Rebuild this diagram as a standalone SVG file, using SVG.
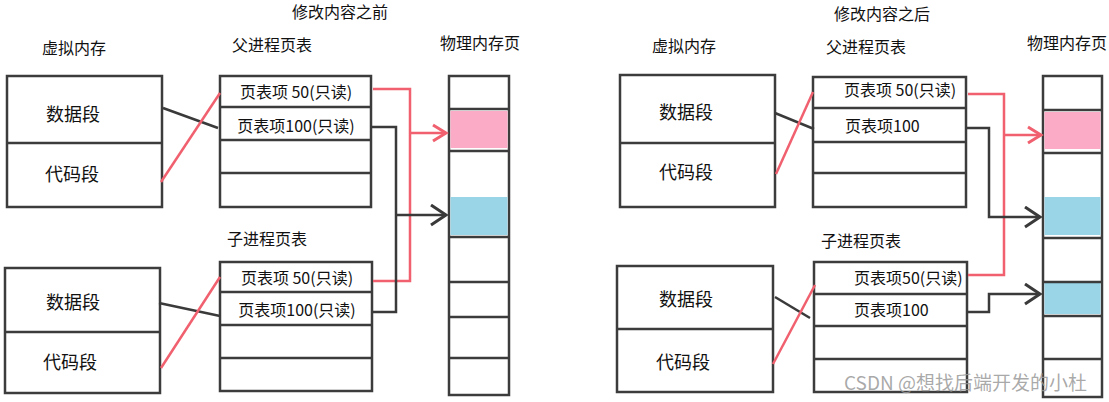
<svg xmlns="http://www.w3.org/2000/svg" width="1109" height="402" viewBox="0 0 1109 402">
<defs>
<style>
.bg{fill:#ffffff}
.box{fill:#ffffff;stroke:#3c3c3c;stroke-width:2.5}
.ln{stroke:#3c3c3c;stroke-width:2.5;fill:none}
.t{font-family:"Noto Sans CJK SC","Liberation Sans",sans-serif;fill:#111;font-size:16px}
.big{font-size:18px}
.m{text-anchor:middle}
.blk{stroke:#3a3a3a;stroke-width:2.5;fill:none;stroke-linejoin:miter}
.red{stroke:#f0606e;stroke-width:2.5;fill:none}
.pink{fill:#fbabc5}
.blue{fill:#99d5e7}
.wm{font-family:"Noto Sans CJK SC","Liberation Sans",sans-serif;font-size:19px;fill:#9a9a9a;fill-opacity:0.85}
</style>
<marker id="ab" markerUnits="userSpaceOnUse" markerWidth="20" markerHeight="24" refX="16" refY="11" orient="auto">
<path d="M1,1 L16,11 L1,21" fill="none" stroke="#3a3a3a" stroke-width="3"/>
</marker>
<marker id="ar" markerUnits="userSpaceOnUse" markerWidth="20" markerHeight="24" refX="16" refY="11" orient="auto">
<path d="M3,3 L16,11 L3,19" fill="none" stroke="#f0606e" stroke-width="3"/>
</marker>
</defs>
<rect class="bg" x="0" y="0" width="1109" height="402"/>

<g id="labels">
<text class="t m" x="340" y="18">修改内容之前</text>
<text class="t m" x="74" y="54">虚拟内存</text>
<text class="t m" x="272" y="51">父进程页表</text>
<text class="t m" x="480" y="49">物理内存页</text>
<text class="t m" x="267" y="245">子进程页表</text>
<text class="t m" x="882" y="20">修改内容之后</text>
<text class="t m" x="684" y="52">虚拟内存</text>
<text class="t m" x="866" y="53">父进程页表</text>
<text class="t" x="1027" y="49">物理内存页</text>
<text class="t m" x="861" y="247">子进程页表</text>
</g>

<g id="vm-left-parent">
<rect class="box" x="7" y="76" width="155" height="131"/>
<line class="ln" x1="7" y1="143" x2="162" y2="143"/>
<text class="t big m" x="73" y="121">数据段</text>
<text class="t big m" x="72" y="181">代码段</text>
</g>

<g id="pt-left-parent">
<rect class="box" x="220" y="76" width="151" height="131"/>
<line class="ln" x1="220" y1="107" x2="371" y2="107"/>
<line class="ln" x1="220" y1="140" x2="371" y2="140"/>
<line class="ln" x1="220" y1="173" x2="371" y2="173"/>
<text class="t m" x="296" y="98">页表项 50(只读)</text>
<text class="t m" x="296" y="132">页表项100(只读)</text>
</g>

<g id="phys-left">
<rect class="box" x="449" y="76" width="60" height="319"/>
<rect class="pink" x="450.5" y="111" width="57" height="37"/>
<rect class="blue" x="450.5" y="197" width="57" height="38"/>
<line class="ln" x1="449" y1="109" x2="509" y2="109"/>
<line class="ln" x1="449" y1="151" x2="509" y2="151"/>
<line class="ln" x1="449" y1="237" x2="509" y2="237"/>
<line class="ln" x1="449" y1="282" x2="509" y2="282"/>
<line class="ln" x1="449" y1="317" x2="509" y2="317"/>
<line class="ln" x1="449" y1="358" x2="509" y2="358"/>
</g>

<g id="pt-left-child">
<rect class="box" x="220" y="262" width="152" height="129"/>
<line class="ln" x1="220" y1="292" x2="372" y2="292"/>
<line class="ln" x1="220" y1="325" x2="372" y2="325"/>
<line class="ln" x1="220" y1="358" x2="372" y2="358"/>
<text class="t m" x="297" y="284">页表项 50(只读)</text>
<text class="t m" x="297" y="316">页表项100(只读)</text>
</g>

<g id="vm-left-child">
<rect class="box" x="5" y="268" width="155" height="125"/>
<line class="ln" x1="5" y1="332" x2="160" y2="332"/>
<text class="t big m" x="73" y="309">数据段</text>
<text class="t big m" x="70" y="369">代码段</text>
</g>

<g id="vm-right-parent">
<rect class="box" x="620" y="75" width="155" height="132"/>
<line class="ln" x1="620" y1="143" x2="775" y2="143"/>
<text class="t big m" x="686" y="119">数据段</text>
<text class="t big m" x="686" y="179">代码段</text>
</g>

<g id="pt-right-parent">
<rect class="box" x="813" y="77" width="153" height="130"/>
<line class="ln" x1="813" y1="108" x2="966" y2="108"/>
<line class="ln" x1="813" y1="142" x2="966" y2="142"/>
<line class="ln" x1="813" y1="173" x2="966" y2="173"/>
<text class="t" x="844" y="96">页表项 50(只读)</text>
<text class="t" x="845" y="132">页表项100</text>
</g>

<g id="phys-right">
<rect class="box" x="1043" y="76" width="59" height="321"/>
<rect class="pink" x="1044.5" y="112" width="56" height="37"/>
<rect class="blue" x="1044.5" y="197" width="56" height="38"/>
<rect class="blue" x="1044.5" y="283" width="56" height="31"/>
<line class="ln" x1="1043" y1="110" x2="1102" y2="110"/>
<line class="ln" x1="1043" y1="153" x2="1102" y2="153"/>
<line class="ln" x1="1043" y1="238" x2="1102" y2="238"/>
<line class="ln" x1="1043" y1="282" x2="1102" y2="282"/>
<line class="ln" x1="1043" y1="316" x2="1102" y2="316"/>
<line class="ln" x1="1043" y1="359" x2="1102" y2="359"/>
</g>

<g id="pt-right-child">
<rect class="box" x="814" y="262" width="153" height="130"/>
<line class="ln" x1="814" y1="294" x2="967" y2="294"/>
<line class="ln" x1="814" y1="326" x2="967" y2="326"/>
<line class="ln" x1="814" y1="359" x2="967" y2="359"/>
<text class="t" x="854" y="284">页表项50(只读)</text>
<text class="t" x="854" y="316">页表项100</text>
</g>

<g id="vm-right-child">
<rect class="box" x="617" y="266" width="156" height="126"/>
<line class="ln" x1="617" y1="329" x2="773" y2="329"/>
<text class="t big m" x="686" y="306">数据段</text>
<text class="t big m" x="683" y="369">代码段</text>
</g>

<g id="connectors">
<line class="blk" x1="163" y1="108" x2="218" y2="128"/>
<line class="red" x1="161" y1="182" x2="220" y2="93"/>
<line class="blk" x1="159" y1="303" x2="220" y2="316"/>
<line class="red" x1="161" y1="368" x2="220" y2="277"/>
<path class="red" d="M373,89 H410 V281 H373"/>
<path class="red" d="M410,133 H446" marker-end="url(#ar)"/>
<path class="blk" d="M370,127 H396 V312 H373"/>
<path class="blk" d="M396,215 H446" marker-end="url(#ab)"/>

<line class="blk" x1="775" y1="113" x2="814" y2="129"/>
<line class="red" x1="776" y1="174" x2="813" y2="92"/>
<line class="blk" x1="775" y1="297" x2="810" y2="318"/>
<line class="red" x1="773" y1="364" x2="815" y2="285"/>
<path class="red" d="M968,94 H1004 V275 H968"/>
<path class="red" d="M1004,135 H1041" marker-end="url(#ar)"/>
<path class="blk" d="M965,128 H989 V217 H1040" marker-end="url(#ab)"/>
<path class="blk" d="M966,312 H989 V294 H1040" marker-end="url(#ab)"/>
</g>

<text class="wm" x="844" y="390">CSDN @想找后端开发的小杜</text>
</svg>
